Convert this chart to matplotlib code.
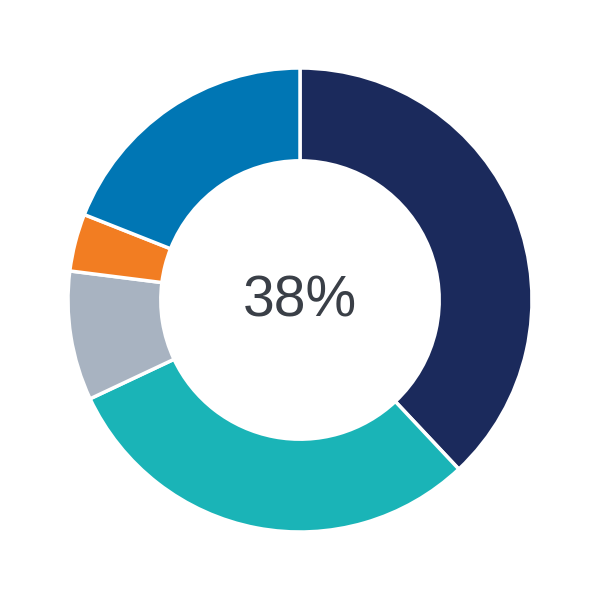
import matplotlib
matplotlib.use("Agg")
import matplotlib.pyplot as plt

# donut slices, clockwise from 12 o'clock
labels = ["Navy", "Teal", "Gray", "Orange", "Blue"]
values = [38, 30, 9, 4, 19]
colors = ["#1b2a5c", "#1ab4b7", "#a8b3c1", "#f27d22", "#0076b4"]
center_label = "38%"

fig = plt.figure(figsize=(6, 6), dpi=100)
ax = fig.add_axes([0, 0, 1, 1])

ax.pie(values, colors=colors, startangle=90, counterclock=False,
       radius=1.0,
       wedgeprops=dict(width=0.4, edgecolor="white", linewidth=2.5))

ax.text(0, -0.005, center_label, ha="center", va="center",
        fontsize=41, color="#3a3f47", family="Liberation Sans")

lim = 300 / 232
ax.set_xlim(-lim, lim)
ax.set_ylim(-lim, lim)
ax.set_aspect("equal")
ax.axis("off")

plt.savefig("out.png", dpi=100, facecolor="white")
plt.close()
